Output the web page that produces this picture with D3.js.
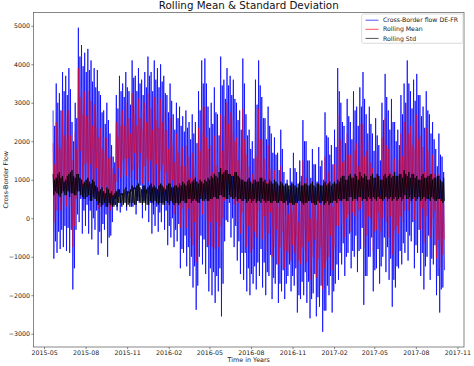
<!DOCTYPE html>
<html><head><meta charset="utf-8">
<script src="https://cdn.jsdelivr.net/npm/d3@7/dist/d3.min.js"></script>
<style>body{margin:0;background:#fff;} svg{display:block;font-family:"DejaVu Sans",sans-serif;}</style>
</head><body><svg id="c" width="474" height="366"></svg>
<script>
// weekly readings of the hourly series: two high/low pairs per week
const startDate = "2015-05-21";
const stepDays = 7;

const blueHigh = [
 2800,3500,3250,3800,3700, 3900,2500,3000,4950,4500, 4300,4400,4100,3900,3850, 3200,2800,3000,2200,1600,
 3200,3700,3500,3800,3300, 4100,3700,3900,3600,3800, 4200,3800,4100,3900,4000, 3700,3200,3500,2700,3000,
 2900,2650,2800,2500,2700, 2500,3300,4100,4150,2900, 3000,3400,2700,4200,3600, 3900,3700,3600,3000,2800,
 4150,2700,2300,2000,3600, 4100,3150,2600,2900,2200, 2100,1700,2300,1200,1000, 1300,1700,1200,1500,2550,
 2000,1500,1800,1400,1850, 1500,2750,2100,1900,2300, 3900,3000,2400,3100,2500, 3300,2900,3400,3800,2700,
 2900,2200,2600,1900,3000, 3750,2800,3100,2500,2300, 3200,3500,4100,3300,3600, 3750,3200,2900,3300,2700,
 2500,1800,2200,1600];
const blueLow = [
 -1050,-900,-800,-750,-850, -900,-1850,-300,-100,-400, -200,-400,-550,-300,-950, -650,-300,-1000,-450,350,
 200,150,400,200,300, 300,100,400,0,200, -100,-400,-200,-350,-100, -300,-700,-500,-750,-600,
 -1300,-900,-1250,-1500,-1800, -2380,-1000,-1200,-1450,-1900, -2000,-2200,-1900,-2550,-600, -100,-500,-750,-1100,-1450,
 -1600,-1900,-2000,-1700,-1850, -1500,-1800,-2000,-1500,-2100, -1700,-2200,-1900,-2100,-1500, -1900,-1750,-2450,-2100,-2000,
 -2200,-2600,-1950,-2550,-2300, -2950,-2400,-2000,-2450,-1700, -1600,-1200,-1500,-900,-1300, -1000,-1400,-800,-2250,-1500,
 -1000,-1900,-1300,-1700,-1000, -1400,-1600,-2300,-1800,-1300, -1200,-900,-1100,-600,-1300, -900,-1500,-1850,-1000,-1600,
 -1200,-2000,-2450,-1800];
const blueHigh2 = [
 2400,3000,2800,3300,3200, 3350,2000,2600,4200,3950, 3800,3850,3550,3400,3300, 2750,2450,2550,1900,1450,
 2850,3300,3150,3400,2950, 3650,3300,3500,3200,3400, 3700,3300,3600,3400,3550, 3250,2750,3050,2300,2600,
 2400,2250,2350,2050,2200, 1950,2800,3500,3500,2350, 2450,2750,2150,3450,3100, 3450,3200,3100,2550,2300,
 3500,2150,1800,1550,2950, 3450,2600,2050,2400,1700, 1650,1250,1800,850,750, 950,1300,800,1100,2000,
 1500,1050,1400,950,1350, 1000,2150,1650,1400,1850, 3300,2500,1950,2650,2050, 2800,2400,2900,3100,2200,
 2450,1750,2150,1500,2550, 3150,2300,2500,2000,1900, 2700,3000,3500,2850,3050, 3200,2650,2350,2800,2200,
 2050,1350,1650,1200];
const blueLow2 = [
 -600,-350,-300,-200,-250, -300,-1300,100,500,200, 350,200,0,200,-350, -150,100,-500,-100,500,
 550,600,750,650,700, 750,550,850,450,650, 400,100,300,150,400, 200,-200,0,-300,-150,
 -800,-450,-750,-1000,-1250, -1750,-450,-550,-750,-1300, -1400,-1500,-1300,-1700,-50, 400,0,-200,-600,-900,
 -900,-1300,-1450,-1250,-1150, -800,-1150,-1400,-950,-1550, -1200,-1700,-1350,-1700,-1200, -1500,-1300,-2000,-1650,-1400,
 -1650,-2100,-1450,-2050,-1750, -2400,-1750,-1500,-1900,-1200, -900,-650,-1000,-400,-850, -450,-850,-250,-1500,-1000,
 -500,-1350,-800,-1250,-500, -750,-1050,-1600,-1250,-850, -650,-350,-450,-100,-700, -300,-900,-1250,-450,-1050,
 -700,-1500,-1850,-1350];

const meanHigh = [
 1950,2500,2350,2800,2700, 2800,1500,2250,3900,3400, 3300,3300,3050,2950,2750, 2350,2100,2100,1600,1300,
 2500,2900,2800,3000,2600, 3250,2900,3100,2800,3000, 3250,2850,3150,2950,3100, 2800,2300,2600,1900,2200,
 1950,1850,1900,1600,1700, 1400,2350,2900,2900,1800, 1900,2150,1650,2700,2650, 3000,2750,2600,2100,1850,
 2850,1650,1350,1150,2350, 2850,2050,1550,1900,1250, 1250,800,1350,450,450, 600,900,400,700,1500,
 1050,600,950,500,900, 500,1600,1200,900,1400, 2700,2050,1500,2200,1650, 2350,1950,2450,2450,1750,
 2000,1300,1700,1100,2100, 2600,1800,1900,1550,1500, 2200,2500,2950,2400,2500, 2700,2150,1850,2350,1750,
 1650,950,1150,850];
const meanLow = [
 -100,200,200,400,300, 300,-750,500,1100,800, 900,800,600,750,250, 300,500,0,200,650,
 950,1050,1150,1100,1050, 1250,1000,1300,900,1100, 950,650,850,700,900, 700,300,500,100,300,
 -250,0,-250,-500,-700, -1150,50,100,-50,-700, -750,-800,-750,-850,450, 900,550,350,-100,-400,
 -150,-750,-900,-800,-500, -100,-550,-850,-400,-1000, -750,-1200,-850,-1300,-900, -1100,-900,-1550,-1200,-850,
 -1150,-1600,-1000,-1550,-1250, -1850,-1100,-1000,-1350,-700, -200,-150,-500,100,-350, 50,-300,250,-750,-450,
 0,-850,-300,-800,0, -100,-500,-950,-700,-400, -100,200,200,400,-50, 250,-300,-650,50,-500,
 -250,-1050,-1300,-950];
const meanHigh2 = [
 1400,1900,1800,2150,2050, 2150,900,1800,3150,2700, 2650,2650,2400,2350,2100, 1800,1700,1550,1250,1150,
 2100,2400,2400,2500,2200, 2700,2400,2600,2300,2500, 2650,2300,2550,2350,2500, 2250,1800,2050,1450,1700,
 1350,1350,1350,1050,1100, 750,1750,2200,2100,1150, 1200,1350,1050,1750,2050, 2450,2200,2000,1500,1250,
 2050,1050,750,650,1600, 2050,1350,950,1300,650, 700,300,800,0,100, 150,450,-100,200,900,
 450,0,450,-50,350, -100,900,600,300,850, 1900,1450,950,1650,1100, 1750,1350,1900,1600,1150,
 1450,700,1150,600,1550, 1900,1200,1150,950,1000, 1600,1900,2200,1900,1800, 2050,1500,1200,1750,1150,
 1150,400,500,350];
const meanLow2 = [
 400,750,700,950,850, 900,-200,900,1750,1400, 1450,1400,1200,1300,850, 800,850,500,550,800,
 1300,1500,1550,1550,1400, 1700,1450,1700,1350,1550, 1500,1200,1400,1250,1400, 1200,750,1000,550,750,
 250,450,250,0,-100, -550,600,800,650,-100, -100,-100,-200,0,1000, 1400,1100,900,400,150,
 550,-200,-400,-350,200, 600,50,-300,150,-450, -300,-750,-350,-850,-600, -700,-450,-1100,-750,-300,
 -600,-1050,-550,-1050,-750, -1300,-450,-450,-800,-200, 500,350,0,600,150, 600,200,750,0,50,
 450,-350,150,-350,500, 550,50,-300,-200,50, 450,750,850,850,550, 850,250,-50,600,0,
 200,-550,-700,-550];

const stdHigh = [
 1150,1050,1200,1100,1000,1150,1250,1050,1150, 1000,950,1050,900,950,
 800,750,700,800,650,600,700,750,650,800,700,
 850,800,900,750,850,800,900,850,750,900,800,850,900,800,850,
 900,950,850,1000,950,1050,900,950,1000,1050,
 1100,1150,1050,1300,1200,1250,1150,1100,1200,1050,
 1000,950,1050,900,1000,950,1050,1000,900,950,1000,900,950,850,900,
 850,900,800,950,850,900,850,950,800,900,850,950,900,850,950,1000,
 1050,1100,1000,1150,1050,1100,1200,1050,1100,1000,1150,1050,1100,1000,1150,1100,1050,1200,1100,1150,1250,1100,1050,1150,1100,1000,1150,1050,1100,1000,1050,1100,950];
const stdLow = [
 600,650,550,700,600,550,650,600,700, 550,500,600,450,500,
 350,300,400,300,350,300,300,400,350,300,400,
 400,350,450,350,400,350,400,450,350,400,350,400,450,350,400,
 400,450,400,500,450,450,400,450,500,450,
 500,550,500,600,550,500,550,500,450,500,
 450,400,500,450,400,450,500,400,450,400,450,400,450,400,350,
 400,350,400,450,350,400,450,400,350,400,450,400,350,400,450,500,
 450,500,450,550,500,450,550,500,450,500,550,450,500,450,550,500,450,550,500,450,600,500,450,550,500,450,550,500,450,500,450,500,400];
const stdHigh2 = [
 1000,1150,1050,950,1100,1200,1100,1150,1050, 900,1000,950,1000,850,
 700,800,650,750,700,650,750,650,750,700,750,
 800,850,800,850,750,850,800,800,850,850,750,900,800,850,800,
 850,900,950,900,1000,950,1000,900,950,1000,
 1050,1100,1200,1150,1250,1150,1100,1200,1100,1000,
 950,1000,950,1000,950,1050,950,900,1000,900,950,850,900,900,850,
 900,850,900,850,900,850,900,850,900,850,900,850,950,900,900,950,
 1100,1000,1100,1050,1150,1000,1100,1150,1000,1100,1050,1150,1000,1100,1050,1150,1100,1100,1150,1050,1150,1200,1150,1050,1000,1100,1050,1100,1150,1050,1100,1000,1050];
const stdLow2 = [
 700,600,650,600,700,650,600,700,600, 500,550,450,550,450,
 400,350,300,400,300,350,400,300,400,350,300,
 350,450,400,400,350,450,350,400,400,350,450,350,400,400,350,
 450,400,500,400,500,400,500,450,450,500,
 550,500,600,550,500,600,500,550,500,450,
 500,450,400,500,450,400,450,450,400,450,400,450,400,450,400,
 350,400,450,400,400,450,400,350,450,400,350,450,400,450,400,450,
 500,450,550,450,500,550,450,500,550,450,500,550,500,500,450,550,500,450,550,500,500,550,500,450,550,500,450,500,550,450,500,450,450];

const yTicks = [-3000,-2000,-1000,0,1000,2000,3000,4000,5000];
const xTickLabels = ["2015-05","2015-08","2015-11","2016-02","2016-05","2016-08","2016-11","2017-02","2017-05","2017-08","2017-11"];
const seriesNames = ["Cross-Border flow DE-FR","Rolling Mean","Rolling Std"];
const seriesColors = ["#0000ff","#ff0000","#000000"];

const W = 474, H = 366;
const m = {l:33.5, r:10, t:12.5, b:19};
const svg = d3.select("#c");
const t0 = d3.timeParse("%Y-%m-%d")(startDate);
const DAY = 864e5;

// readings in each week are spread evenly over the week
function build(cols){
  const pts = [];
  const n = cols.length;
  cols[0].forEach((_,i)=>{
    const d = +t0 + i*stepDays*DAY;
    cols.forEach((c,k)=> pts.push([new Date(d + k*stepDays/n*DAY), c[i]]));
  });
  return pts;
}
const series = [
  build([blueHigh, blueLow, blueHigh2, blueLow2]),
  build([meanHigh, meanLow, meanHigh2, meanLow2]),
  build([stdHigh, stdLow, stdHigh2, stdLow2])
];
const all = series.flat();

const xExt = d3.extent(all, d=>+d[0]);
const xPad = (xExt[1]-xExt[0])*0.05;
const x = d3.scaleTime().domain([new Date(xExt[0]-xPad), new Date(xExt[1]+xPad)]).range([m.l, W-m.r]);
const yExt = d3.extent(all, d=>d[1]);
const yPad = (yExt[1]-yExt[0])*0.05;
const y = d3.scaleLinear().domain([yExt[0]-yPad, yExt[1]+yPad]).range([H-m.b, m.t]);

const line = d3.line().x(d=>x(d[0])).y(d=>y(d[1]));
const widths = [0.75, 0.55, 0.8];
const opac = [1, 0.9, 1];
series.forEach((s,k)=>{
  svg.append("path").attr("d", line(s)).attr("fill","none")
    .attr("stroke", seriesColors[k]).attr("stroke-width", widths[k]).attr("stroke-opacity", opac[k])
    .attr("stroke-linejoin","round");
});

// frame
const spine = "#555";
svg.append("rect").attr("x", m.l).attr("y", m.t).attr("width", W-m.r-m.l).attr("height", H-m.b-m.t)
  .attr("fill","none").attr("stroke", spine).attr("stroke-width", 0.7);

const fmtY = d => d < 0 ? "\u2212" + Math.abs(d) : String(d);
const gy = svg.append("g").attr("transform", `translate(${m.l},0)`)
  .call(d3.axisLeft(y).tickValues(yTicks).tickFormat(fmtY).tickSize(2.2).tickPadding(1.2));
const parseM = d3.timeParse("%Y-%m");
const gx = svg.append("g").attr("transform", `translate(0,${H-m.b})`)
  .call(d3.axisBottom(x).tickValues(xTickLabels.map(parseM)).tickFormat(d3.timeFormat("%Y-%m")).tickSize(2.2).tickPadding(1.5));
[gx, gy].forEach(g=>{
  g.select(".domain").remove();
  g.selectAll(".tick line").attr("stroke", spine).attr("stroke-width", 0.7);
  g.selectAll(".tick text").attr("fill","#222").style("font-size","6.3px").style("font-family","DejaVu Sans");
});

// title and labels
svg.append("text").attr("x", (m.l + W - m.r)/2).attr("y", 9.3).attr("text-anchor","middle")
  .style("font-size","10.3px").attr("fill","#111").text("Rolling Mean & Standard Deviation");
svg.append("text").attr("x", (m.l + W - m.r)/2).attr("y", 362).attr("text-anchor","middle")
  .style("font-size","6.4px").attr("fill","#222").text("Time in Years");
svg.append("text").attr("transform", `translate(7.5,${(m.t + H - m.b)/2}) rotate(-90)`).attr("text-anchor","middle")
  .style("font-size","6.4px").attr("fill","#222").text("Cross-Border Flow");

// legend
const lg = svg.append("g");
lg.append("rect").attr("x", 361.7).attr("y", 14).attr("width", 101.3).attr("height", 29.3).attr("rx", 2)
  .attr("fill","#fff").attr("fill-opacity", 0.8).attr("stroke","#ccc").attr("stroke-width", 0.7);
seriesNames.forEach((n,k)=>{
  const yy = 20.2 + k*9.1;
  lg.append("line").attr("x1", 365.5).attr("x2", 378.5).attr("y1", yy).attr("y2", yy)
    .attr("stroke", seriesColors[k]).attr("stroke-width", 0.9).attr("stroke-opacity", 0.75);
  lg.append("text").attr("x", 383).attr("y", yy).attr("dy","0.35em").style("font-size","6.2px")
    .attr("fill","#222").text(n);
});
</script></body></html>
